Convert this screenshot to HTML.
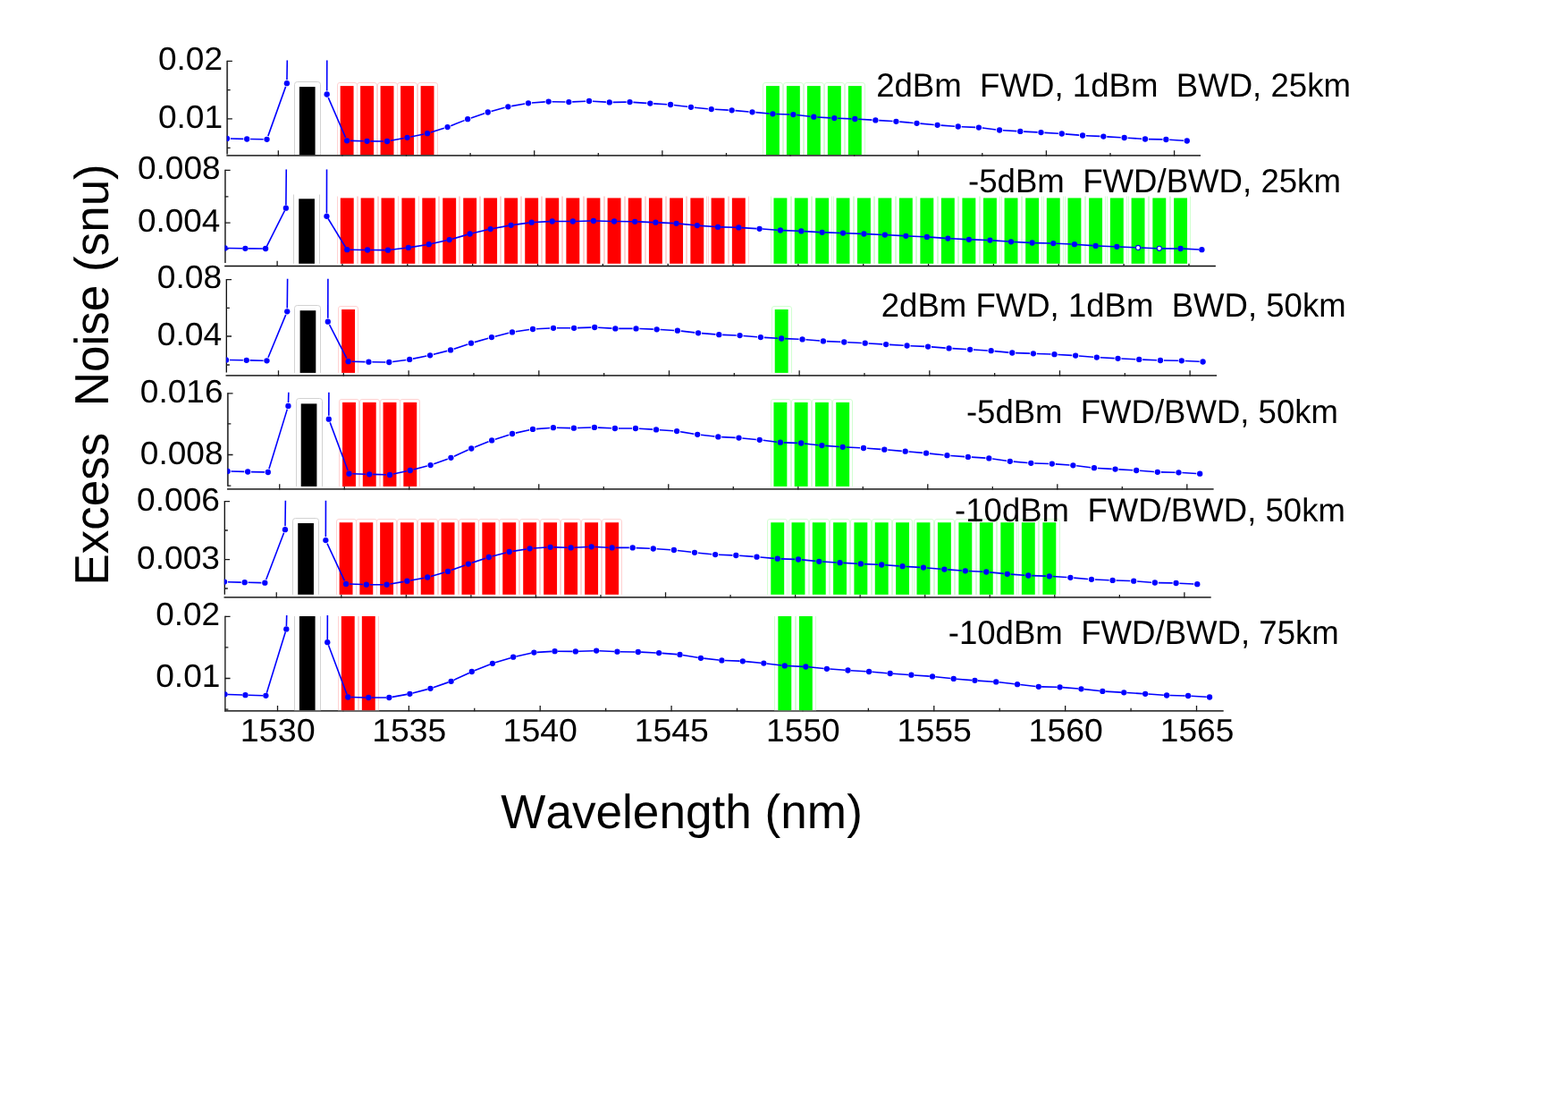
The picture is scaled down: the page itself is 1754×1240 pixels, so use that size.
<!DOCTYPE html>
<html lang="en"><head><meta charset="utf-8"><title>Excess Noise vs Wavelength</title>
<style>html,body{margin:0;padding:0;background:#fff;}body{width:1754px;height:1240px;overflow:hidden;}svg{display:block;}text{font-family:"Liberation Sans",sans-serif;font-size:100px;fill:#000;font-kerning:none;white-space:pre;text-rendering:geometricPrecision;}</style></head><body>
<svg width="1754" height="1240" viewBox="0 0 1754 1240">
<rect width="1754" height="1240" fill="#fff"/>
<g id="panel1">
<path d="M254.16 67.80V172.60" fill="none" stroke="#3a3a3a" stroke-width="1.8"/>
<path d="M253.36 173.90H1343.03" fill="none" stroke="#3a3a3a" stroke-width="1.8"/>
<path d="M254.06 68.40h5.8M254.06 100.70h3.6M254.06 132.90h5.8M254.06 165.30h3.6M311.33 174.40v-6.2M382.92 174.40v-3.5M454.51 174.40v-6.2M526.10 174.40v-3.5M597.69 174.40v-6.2M669.28 174.40v-3.5M740.87 174.40v-6.2M812.46 174.40v-3.5M884.05 174.40v-6.2M955.64 174.40v-3.5M1027.23 174.40v-6.2M1098.82 174.40v-3.5M1170.41 174.40v-6.2M1242.00 174.40v-3.5M1313.59 174.40v-6.2" fill="none" stroke="#1a1a1a" stroke-width="1.3"/>
<path d="M329.50 173.00V94.50Q329.50 91.50 332.50 91.50H355.50Q358.50 91.50 358.50 94.50V173.00z" fill="#fff"/><path d="M329.50 173.00V94.50Q329.50 91.50 332.50 91.50H355.50Q358.50 91.50 358.50 94.50V173.00" fill="none" stroke="#d2d2d2" stroke-width="1"/>
<rect x="334.88" y="97.10" width="17.70" height="75.90" fill="#000"/>
<path d="M377.50 173.00V95.00Q377.50 92.50 380.00 92.50H397.00Q399.50 92.50 399.50 95.00V173.00z" fill="#fff"/><path d="M377.50 173.00V95.00Q377.50 92.50 380.00 92.50H397.00Q399.50 92.50 399.50 95.00V173.00" fill="none" stroke="#ffd2d2" stroke-width="1"/>
<rect x="380.66" y="96.10" width="14.90" height="76.90" fill="#ff0000"/>
<path d="M399.50 173.00V95.00Q399.50 92.50 402.00 92.50H419.00Q421.50 92.50 421.50 95.00V173.00z" fill="#fff"/><path d="M399.50 173.00V95.00Q399.50 92.50 402.00 92.50H419.00Q421.50 92.50 421.50 95.00V173.00" fill="none" stroke="#ffd2d2" stroke-width="1"/>
<rect x="403.11" y="96.10" width="14.90" height="76.90" fill="#ff0000"/>
<path d="M422.50 173.00V95.00Q422.50 92.50 425.00 92.50H442.00Q444.50 92.50 444.50 95.00V173.00z" fill="#fff"/><path d="M422.50 173.00V95.00Q422.50 92.50 425.00 92.50H442.00Q444.50 92.50 444.50 95.00V173.00" fill="none" stroke="#ffd2d2" stroke-width="1"/>
<rect x="425.58" y="96.10" width="14.90" height="76.90" fill="#ff0000"/>
<path d="M444.50 173.00V95.00Q444.50 92.50 447.00 92.50H464.00Q466.50 92.50 466.50 95.00V173.00z" fill="#fff"/><path d="M444.50 173.00V95.00Q444.50 92.50 447.00 92.50H464.00Q466.50 92.50 466.50 95.00V173.00" fill="none" stroke="#ffd2d2" stroke-width="1"/>
<rect x="448.08" y="96.10" width="14.90" height="76.90" fill="#ff0000"/>
<path d="M467.50 173.00V95.00Q467.50 92.50 470.00 92.50H487.00Q489.50 92.50 489.50 95.00V173.00z" fill="#fff"/><path d="M467.50 173.00V95.00Q467.50 92.50 470.00 92.50H487.00Q489.50 92.50 489.50 95.00V173.00" fill="none" stroke="#ffd2d2" stroke-width="1"/>
<rect x="470.60" y="96.10" width="14.90" height="76.90" fill="#ff0000"/>
<path d="M853.50 173.00V95.00Q853.50 92.50 856.00 92.50H873.00Q875.50 92.50 875.50 95.00V173.00z" fill="#fff"/><path d="M853.50 173.00V95.00Q853.50 92.50 856.00 92.50H873.00Q875.50 92.50 875.50 95.00V173.00" fill="none" stroke="#d2ffd2" stroke-width="1"/>
<rect x="856.99" y="96.10" width="14.90" height="76.90" fill="#00ff00"/>
<path d="M876.50 173.00V95.00Q876.50 92.50 879.00 92.50H896.00Q898.50 92.50 898.50 95.00V173.00z" fill="#fff"/><path d="M876.50 173.00V95.00Q876.50 92.50 879.00 92.50H896.00Q898.50 92.50 898.50 95.00V173.00" fill="none" stroke="#d2ffd2" stroke-width="1"/>
<rect x="879.93" y="96.10" width="14.90" height="76.90" fill="#00ff00"/>
<path d="M899.50 173.00V95.00Q899.50 92.50 902.00 92.50H919.00Q921.50 92.50 921.50 95.00V173.00z" fill="#fff"/><path d="M899.50 173.00V95.00Q899.50 92.50 902.00 92.50H919.00Q921.50 92.50 921.50 95.00V173.00" fill="none" stroke="#d2ffd2" stroke-width="1"/>
<rect x="902.89" y="96.10" width="14.90" height="76.90" fill="#00ff00"/>
<path d="M922.50 173.00V95.00Q922.50 92.50 925.00 92.50H942.00Q944.50 92.50 944.50 95.00V173.00z" fill="#fff"/><path d="M922.50 173.00V95.00Q922.50 92.50 925.00 92.50H942.00Q944.50 92.50 944.50 95.00V173.00" fill="none" stroke="#d2ffd2" stroke-width="1"/>
<rect x="925.88" y="96.10" width="14.90" height="76.90" fill="#00ff00"/>
<path d="M945.50 173.00V95.00Q945.50 92.50 948.00 92.50H965.00Q967.50 92.50 967.50 95.00V173.00z" fill="#fff"/><path d="M945.50 173.00V95.00Q945.50 92.50 948.00 92.50H965.00Q967.50 92.50 967.50 95.00V173.00" fill="none" stroke="#d2ffd2" stroke-width="1"/>
<rect x="948.89" y="96.10" width="14.90" height="76.90" fill="#00ff00"/>
<clipPath id="cp1"><rect x="253.76" y="67.20" width="1108.17" height="107.30"/></clipPath>
<g clip-path="url(#cp1)">
<path d="M257.79 155.00L272.31 155.40M280.10 155.55L294.64 155.75M299.85 152.13L319.59 96.87M367.23 109.08L386.56 153.72M392.01 157.39L406.66 157.71M414.46 157.83L429.13 157.97M436.87 157.28L451.70 154.52M459.35 153.02L474.23 149.98M481.77 148.03L496.87 143.27M504.22 140.67L519.53 134.63M526.85 131.94L542.05 126.76M549.51 124.47L564.60 120.33M572.20 118.62L587.15 115.98M594.88 115.01L609.76 113.89M617.55 113.69L632.43 114.01M640.23 113.91L655.14 113.19M662.93 113.24L677.87 114.16M685.66 114.35L700.62 114.15M708.41 114.36L723.40 115.34M731.18 115.84L746.20 116.76M753.96 117.47L769.04 119.33M776.79 120.19L791.88 121.71M799.65 122.30L814.73 123.10M822.51 123.64L837.63 124.96M845.40 125.64L860.55 126.96M868.33 127.44L883.48 127.96M891.25 128.54L906.46 130.26M914.23 130.94L929.43 131.86M937.22 132.25L952.44 132.85M960.23 133.24L975.48 134.16M983.27 134.64L998.54 135.56M1006.32 136.14L1021.63 137.46M1029.40 138.14L1044.74 139.46M1052.51 140.09L1067.86 141.21M1075.65 141.69L1091.01 142.41M1098.78 143.08L1114.22 145.02M1121.98 145.73L1137.40 146.67M1145.19 147.10L1160.62 147.90M1168.41 148.33L1183.88 149.27M1191.66 149.83L1207.16 151.17M1214.94 151.68L1230.45 152.42M1238.24 152.83L1253.78 153.77M1261.56 154.25L1277.13 155.25M1284.92 155.58L1300.49 155.92M1308.28 156.25L1323.90 157.25M320.96 89.30L321.30 67.20M365.78 67.20L365.69 101.60" fill="none" stroke="#0000ff" stroke-width="1.6"/>
<circle cx="253.89" cy="154.90" r="3.15" fill="#0000ff"/>
<circle cx="276.20" cy="155.50" r="3.15" fill="#0000ff"/>
<circle cx="298.54" cy="155.80" r="3.15" fill="#0000ff"/>
<circle cx="320.90" cy="93.20" r="3.15" fill="#0000ff"/>
<circle cx="365.68" cy="105.50" r="3.15" fill="#0000ff"/>
<circle cx="388.11" cy="157.30" r="3.15" fill="#0000ff"/>
<circle cx="410.56" cy="157.80" r="3.15" fill="#0000ff"/>
<circle cx="433.03" cy="158.00" r="3.15" fill="#0000ff"/>
<circle cx="455.53" cy="153.80" r="3.15" fill="#0000ff"/>
<circle cx="478.05" cy="149.20" r="3.15" fill="#0000ff"/>
<circle cx="500.59" cy="142.10" r="3.15" fill="#0000ff"/>
<circle cx="523.16" cy="133.20" r="3.15" fill="#0000ff"/>
<circle cx="545.75" cy="125.50" r="3.15" fill="#0000ff"/>
<circle cx="568.36" cy="119.30" r="3.15" fill="#0000ff"/>
<circle cx="590.99" cy="115.30" r="3.15" fill="#0000ff"/>
<circle cx="613.65" cy="113.60" r="3.15" fill="#0000ff"/>
<circle cx="636.33" cy="114.10" r="3.15" fill="#0000ff"/>
<circle cx="659.04" cy="113.00" r="3.15" fill="#0000ff"/>
<circle cx="681.76" cy="114.40" r="3.15" fill="#0000ff"/>
<circle cx="704.52" cy="114.10" r="3.15" fill="#0000ff"/>
<circle cx="727.29" cy="115.60" r="3.15" fill="#0000ff"/>
<circle cx="750.09" cy="117.00" r="3.15" fill="#0000ff"/>
<circle cx="772.91" cy="119.80" r="3.15" fill="#0000ff"/>
<circle cx="795.76" cy="122.10" r="3.15" fill="#0000ff"/>
<circle cx="818.63" cy="123.30" r="3.15" fill="#0000ff"/>
<circle cx="841.52" cy="125.30" r="3.15" fill="#0000ff"/>
<circle cx="864.44" cy="127.30" r="3.15" fill="#0000ff"/>
<circle cx="887.38" cy="128.10" r="3.15" fill="#0000ff"/>
<circle cx="910.34" cy="130.70" r="3.15" fill="#0000ff"/>
<circle cx="933.33" cy="132.10" r="3.15" fill="#0000ff"/>
<circle cx="956.34" cy="133.00" r="3.15" fill="#0000ff"/>
<circle cx="979.37" cy="134.40" r="3.15" fill="#0000ff"/>
<circle cx="1002.43" cy="135.80" r="3.15" fill="#0000ff"/>
<circle cx="1025.52" cy="137.80" r="3.15" fill="#0000ff"/>
<circle cx="1048.62" cy="139.80" r="3.15" fill="#0000ff"/>
<circle cx="1071.75" cy="141.50" r="3.15" fill="#0000ff"/>
<circle cx="1094.91" cy="142.60" r="3.15" fill="#0000ff"/>
<circle cx="1118.09" cy="145.50" r="3.15" fill="#0000ff"/>
<circle cx="1141.29" cy="146.90" r="3.15" fill="#0000ff"/>
<circle cx="1164.52" cy="148.10" r="3.15" fill="#0000ff"/>
<circle cx="1187.77" cy="149.50" r="3.15" fill="#0000ff"/>
<circle cx="1211.05" cy="151.50" r="3.15" fill="#0000ff"/>
<circle cx="1234.35" cy="152.60" r="3.15" fill="#0000ff"/>
<circle cx="1257.67" cy="154.00" r="3.15" fill="#0000ff"/>
<circle cx="1281.02" cy="155.50" r="3.15" fill="#0000ff"/>
<circle cx="1304.39" cy="156.00" r="3.15" fill="#0000ff"/>
<circle cx="1327.79" cy="157.50" r="3.15" fill="#0000ff"/>
</g>
<text transform="translate(176.91 78.00) scale(0.3703 0.3600)">0.02</text>
<text transform="translate(176.91 143.00) scale(0.3707 0.3600)">0.01</text>
<text transform="translate(980.16 108.00) scale(0.3660 0.3717)">2dBm  FWD, 1dBm  BWD, 25km</text>
</g>
<g id="panel2">
<path d="M251.94 189.80V294.00" fill="none" stroke="#3a3a3a" stroke-width="1.7"/>
<path d="M251.14 297.50H1359.89" fill="none" stroke="#0a0a0a" stroke-width="1.3"/>
<path d="M251.84 190.40h5.8M251.84 219.90h3.6M251.84 249.20h5.8M251.84 278.50h3.6M310.12 298.00v-6.2M382.97 298.00v-3.5M455.81 298.00v-6.2M528.65 298.00v-3.5M601.50 298.00v-6.2M674.35 298.00v-3.5M747.19 298.00v-6.2M820.04 298.00v-3.5M892.88 298.00v-6.2M965.73 298.00v-3.5M1038.57 298.00v-6.2M1111.41 298.00v-3.5M1184.26 298.00v-6.2M1257.11 298.00v-3.5M1329.95 298.00v-6.2" fill="none" stroke="#1a1a1a" stroke-width="1.3"/>
<path d="M328.50 294.80V217.50H357.50V294.80z" fill="#fff"/><path d="M328.50 294.80V217.50M357.50 217.50V294.80" fill="none" stroke="#d2d2d2" stroke-width="1"/>
<rect x="334.23" y="222.30" width="17.70" height="72.50" fill="#000"/>
<path d="M377.50 294.80V219.50H399.50V294.80z" fill="#fff"/><path d="M377.50 294.80V219.50M399.50 219.50V294.80" fill="none" stroke="#ffd2d2" stroke-width="1"/>
<rect x="380.80" y="221.40" width="14.90" height="73.40" fill="#ff0000"/>
<path d="M400.50 294.80V219.50H422.50V294.80z" fill="#fff"/><path d="M400.50 294.80V219.50M422.50 219.50V294.80" fill="none" stroke="#ffd2d2" stroke-width="1"/>
<rect x="403.64" y="221.40" width="14.90" height="73.40" fill="#ff0000"/>
<path d="M423.50 294.80V219.50H445.50V294.80z" fill="#fff"/><path d="M423.50 294.80V219.50M445.50 219.50V294.80" fill="none" stroke="#ffd2d2" stroke-width="1"/>
<rect x="426.51" y="221.40" width="14.90" height="73.40" fill="#ff0000"/>
<path d="M445.50 294.80V219.50H468.50V294.80z" fill="#fff"/><path d="M445.50 294.80V219.50M468.50 219.50V294.80" fill="none" stroke="#ffd2d2" stroke-width="1"/>
<rect x="449.40" y="221.40" width="14.90" height="73.40" fill="#ff0000"/>
<path d="M468.50 294.80V219.50H490.50V294.80z" fill="#fff"/><path d="M468.50 294.80V219.50M490.50 219.50V294.80" fill="none" stroke="#ffd2d2" stroke-width="1"/>
<rect x="472.31" y="221.40" width="14.90" height="73.40" fill="#ff0000"/>
<path d="M491.50 294.80V219.50H513.50V294.80z" fill="#fff"/><path d="M491.50 294.80V219.50M513.50 219.50V294.80" fill="none" stroke="#ffd2d2" stroke-width="1"/>
<rect x="495.25" y="221.40" width="14.90" height="73.40" fill="#ff0000"/>
<path d="M514.50 294.80V219.50H536.50V294.80z" fill="#fff"/><path d="M514.50 294.80V219.50M536.50 219.50V294.80" fill="none" stroke="#ffd2d2" stroke-width="1"/>
<rect x="518.21" y="221.40" width="14.90" height="73.40" fill="#ff0000"/>
<path d="M537.50 294.80V219.50H559.50V294.80z" fill="#fff"/><path d="M537.50 294.80V219.50M559.50 219.50V294.80" fill="none" stroke="#ffd2d2" stroke-width="1"/>
<rect x="541.19" y="221.40" width="14.90" height="73.40" fill="#ff0000"/>
<path d="M560.50 294.80V219.50H582.50V294.80z" fill="#fff"/><path d="M560.50 294.80V219.50M582.50 219.50V294.80" fill="none" stroke="#ffd2d2" stroke-width="1"/>
<rect x="564.20" y="221.40" width="14.90" height="73.40" fill="#ff0000"/>
<path d="M583.50 294.80V219.50H605.50V294.80z" fill="#fff"/><path d="M583.50 294.80V219.50M605.50 219.50V294.80" fill="none" stroke="#ffd2d2" stroke-width="1"/>
<rect x="587.23" y="221.40" width="14.90" height="73.40" fill="#ff0000"/>
<path d="M606.50 294.80V219.50H628.50V294.80z" fill="#fff"/><path d="M606.50 294.80V219.50M628.50 219.50V294.80" fill="none" stroke="#ffd2d2" stroke-width="1"/>
<rect x="610.29" y="221.40" width="14.90" height="73.40" fill="#ff0000"/>
<path d="M629.50 294.80V219.50H652.50V294.80z" fill="#fff"/><path d="M629.50 294.80V219.50M652.50 219.50V294.80" fill="none" stroke="#ffd2d2" stroke-width="1"/>
<rect x="633.37" y="221.40" width="14.90" height="73.40" fill="#ff0000"/>
<path d="M653.50 294.80V219.50H675.50V294.80z" fill="#fff"/><path d="M653.50 294.80V219.50M675.50 219.50V294.80" fill="none" stroke="#ffd2d2" stroke-width="1"/>
<rect x="656.47" y="221.40" width="14.90" height="73.40" fill="#ff0000"/>
<path d="M676.50 294.80V219.50H698.50V294.80z" fill="#fff"/><path d="M676.50 294.80V219.50M698.50 219.50V294.80" fill="none" stroke="#ffd2d2" stroke-width="1"/>
<rect x="679.60" y="221.40" width="14.90" height="73.40" fill="#ff0000"/>
<path d="M699.50 294.80V219.50H721.50V294.80z" fill="#fff"/><path d="M699.50 294.80V219.50M721.50 219.50V294.80" fill="none" stroke="#ffd2d2" stroke-width="1"/>
<rect x="702.75" y="221.40" width="14.90" height="73.40" fill="#ff0000"/>
<path d="M722.50 294.80V219.50H744.50V294.80z" fill="#fff"/><path d="M722.50 294.80V219.50M744.50 219.50V294.80" fill="none" stroke="#ffd2d2" stroke-width="1"/>
<rect x="725.92" y="221.40" width="14.90" height="73.40" fill="#ff0000"/>
<path d="M745.50 294.80V219.50H767.50V294.80z" fill="#fff"/><path d="M745.50 294.80V219.50M767.50 219.50V294.80" fill="none" stroke="#ffd2d2" stroke-width="1"/>
<rect x="749.12" y="221.40" width="14.90" height="73.40" fill="#ff0000"/>
<path d="M768.50 294.80V219.50H790.50V294.80z" fill="#fff"/><path d="M768.50 294.80V219.50M790.50 219.50V294.80" fill="none" stroke="#ffd2d2" stroke-width="1"/>
<rect x="772.34" y="221.40" width="14.90" height="73.40" fill="#ff0000"/>
<path d="M792.50 294.80V219.50H814.50V294.80z" fill="#fff"/><path d="M792.50 294.80V219.50M814.50 219.50V294.80" fill="none" stroke="#ffd2d2" stroke-width="1"/>
<rect x="795.59" y="221.40" width="14.90" height="73.40" fill="#ff0000"/>
<path d="M815.50 294.80V219.50H837.50V294.80z" fill="#fff"/><path d="M815.50 294.80V219.50M837.50 219.50V294.80" fill="none" stroke="#ffd2d2" stroke-width="1"/>
<rect x="818.86" y="221.40" width="14.90" height="73.40" fill="#ff0000"/>
<path d="M862.50 294.80V219.50H884.50V294.80z" fill="#fff"/><path d="M862.50 294.80V219.50M884.50 219.50V294.80" fill="none" stroke="#d2ffd2" stroke-width="1"/>
<rect x="865.47" y="221.40" width="14.90" height="73.40" fill="#00ff00"/>
<path d="M885.50 294.80V219.50H907.50V294.80z" fill="#fff"/><path d="M885.50 294.80V219.50M907.50 219.50V294.80" fill="none" stroke="#d2ffd2" stroke-width="1"/>
<rect x="888.81" y="221.40" width="14.90" height="73.40" fill="#00ff00"/>
<path d="M908.50 294.80V219.50H930.50V294.80z" fill="#fff"/><path d="M908.50 294.80V219.50M930.50 219.50V294.80" fill="none" stroke="#d2ffd2" stroke-width="1"/>
<rect x="912.18" y="221.40" width="14.90" height="73.40" fill="#00ff00"/>
<path d="M932.50 294.80V219.50H954.50V294.80z" fill="#fff"/><path d="M932.50 294.80V219.50M954.50 219.50V294.80" fill="none" stroke="#d2ffd2" stroke-width="1"/>
<rect x="935.57" y="221.40" width="14.90" height="73.40" fill="#00ff00"/>
<path d="M955.50 294.80V219.50H977.50V294.80z" fill="#fff"/><path d="M955.50 294.80V219.50M977.50 219.50V294.80" fill="none" stroke="#d2ffd2" stroke-width="1"/>
<rect x="958.99" y="221.40" width="14.90" height="73.40" fill="#00ff00"/>
<path d="M978.50 294.80V219.50H1001.50V294.80z" fill="#fff"/><path d="M978.50 294.80V219.50M1001.50 219.50V294.80" fill="none" stroke="#d2ffd2" stroke-width="1"/>
<rect x="982.42" y="221.40" width="14.90" height="73.40" fill="#00ff00"/>
<path d="M1002.50 294.80V219.50H1024.50V294.80z" fill="#fff"/><path d="M1002.50 294.80V219.50M1024.50 219.50V294.80" fill="none" stroke="#d2ffd2" stroke-width="1"/>
<rect x="1005.89" y="221.40" width="14.90" height="73.40" fill="#00ff00"/>
<path d="M1025.50 294.80V219.50H1048.50V294.80z" fill="#fff"/><path d="M1025.50 294.80V219.50M1048.50 219.50V294.80" fill="none" stroke="#d2ffd2" stroke-width="1"/>
<rect x="1029.38" y="221.40" width="14.90" height="73.40" fill="#00ff00"/>
<path d="M1049.50 294.80V219.50H1071.50V294.80z" fill="#fff"/><path d="M1049.50 294.80V219.50M1071.50 219.50V294.80" fill="none" stroke="#d2ffd2" stroke-width="1"/>
<rect x="1052.89" y="221.40" width="14.90" height="73.40" fill="#00ff00"/>
<path d="M1072.50 294.80V219.50H1095.50V294.80z" fill="#fff"/><path d="M1072.50 294.80V219.50M1095.50 219.50V294.80" fill="none" stroke="#d2ffd2" stroke-width="1"/>
<rect x="1076.42" y="221.40" width="14.90" height="73.40" fill="#00ff00"/>
<path d="M1096.50 294.80V219.50H1118.50V294.80z" fill="#fff"/><path d="M1096.50 294.80V219.50M1118.50 219.50V294.80" fill="none" stroke="#d2ffd2" stroke-width="1"/>
<rect x="1099.99" y="221.40" width="14.90" height="73.40" fill="#00ff00"/>
<path d="M1120.50 294.80V219.50H1142.50V294.80z" fill="#fff"/><path d="M1120.50 294.80V219.50M1142.50 219.50V294.80" fill="none" stroke="#d2ffd2" stroke-width="1"/>
<rect x="1123.57" y="221.40" width="14.90" height="73.40" fill="#00ff00"/>
<path d="M1143.50 294.80V219.50H1165.50V294.80z" fill="#fff"/><path d="M1143.50 294.80V219.50M1165.50 219.50V294.80" fill="none" stroke="#d2ffd2" stroke-width="1"/>
<rect x="1147.18" y="221.40" width="14.90" height="73.40" fill="#00ff00"/>
<path d="M1167.50 294.80V219.50H1189.50V294.80z" fill="#fff"/><path d="M1167.50 294.80V219.50M1189.50 219.50V294.80" fill="none" stroke="#d2ffd2" stroke-width="1"/>
<rect x="1170.82" y="221.40" width="14.90" height="73.40" fill="#00ff00"/>
<path d="M1191.50 294.80V219.50H1213.50V294.80z" fill="#fff"/><path d="M1191.50 294.80V219.50M1213.50 219.50V294.80" fill="none" stroke="#d2ffd2" stroke-width="1"/>
<rect x="1194.47" y="221.40" width="14.90" height="73.40" fill="#00ff00"/>
<path d="M1214.50 294.80V219.50H1236.50V294.80z" fill="#fff"/><path d="M1214.50 294.80V219.50M1236.50 219.50V294.80" fill="none" stroke="#d2ffd2" stroke-width="1"/>
<rect x="1218.16" y="221.40" width="14.90" height="73.40" fill="#00ff00"/>
<path d="M1238.50 294.80V219.50H1260.50V294.80z" fill="#fff"/><path d="M1238.50 294.80V219.50M1260.50 219.50V294.80" fill="none" stroke="#d2ffd2" stroke-width="1"/>
<rect x="1241.87" y="221.40" width="14.90" height="73.40" fill="#00ff00"/>
<path d="M1262.50 294.80V219.50H1284.50V294.80z" fill="#fff"/><path d="M1262.50 294.80V219.50M1284.50 219.50V294.80" fill="none" stroke="#d2ffd2" stroke-width="1"/>
<rect x="1265.60" y="221.40" width="14.90" height="73.40" fill="#00ff00"/>
<path d="M1285.50 294.80V219.50H1308.50V294.80z" fill="#fff"/><path d="M1285.50 294.80V219.50M1308.50 219.50V294.80" fill="none" stroke="#d2ffd2" stroke-width="1"/>
<rect x="1289.36" y="221.40" width="14.90" height="73.40" fill="#00ff00"/>
<path d="M1309.50 294.80V219.50H1331.50V294.80z" fill="#fff"/><path d="M1309.50 294.80V219.50M1331.50 219.50V294.80" fill="none" stroke="#d2ffd2" stroke-width="1"/>
<rect x="1313.14" y="221.40" width="14.90" height="73.40" fill="#00ff00"/>
<clipPath id="cp2"><rect x="251.54" y="189.20" width="1127.24" height="108.90"/></clipPath>
<g clip-path="url(#cp2)">
<path d="M254.87 277.54L271.18 277.76M277.58 277.83L293.91 277.97M298.54 275.14L318.42 235.56M367.09 244.53L386.58 276.47M391.45 279.24L407.89 279.46M414.29 279.53L430.76 279.67M437.13 279.31L453.67 277.29M460.01 276.39L476.60 273.71M482.89 272.51L499.58 268.79M505.77 267.22L522.58 262.38M528.78 260.77L545.53 256.83M551.79 255.51L568.51 252.39M574.82 251.37L591.51 249.13M597.88 248.53L614.54 247.67M620.94 247.50L637.62 247.50M644.02 247.43L660.72 247.07M667.12 247.07L683.85 247.43M690.25 247.54L707.00 247.76M713.40 247.92L730.18 248.58M736.57 248.85L753.37 249.65M759.76 250.12L776.61 251.78M782.98 252.33L799.85 253.57M806.24 253.88L823.11 254.32M829.50 254.59L846.41 255.61M852.79 256.03L869.73 257.27M876.12 257.62L893.07 258.28M899.46 258.59L916.44 259.61M922.83 259.91L939.82 260.49M946.22 260.72L963.24 261.38M969.63 261.65L986.68 262.45M993.07 262.76L1010.14 263.64M1016.53 263.95L1033.63 264.75M1040.02 265.13L1057.15 266.37M1063.53 266.76L1080.68 267.64M1087.07 267.91L1104.24 268.49M1110.63 268.83L1127.83 270.07M1134.22 270.46L1151.43 271.34M1157.83 271.58L1175.07 272.02M1181.46 272.25L1198.73 273.05M1205.12 273.43L1222.42 274.67M1228.81 275.02L1246.12 275.68M1252.51 275.95L1269.85 276.75M1276.25 277.02L1293.61 277.68M1300.01 277.83L1317.39 277.97M1323.79 278.16L1341.20 279.04M319.89 229.50L320.26 189.20M365.53 189.20L365.43 238.60" fill="none" stroke="#0000ff" stroke-width="1.6"/>
<circle cx="251.67" cy="277.50" r="3.15" fill="#0000ff"/>
<circle cx="274.38" cy="277.80" r="3.15" fill="#0000ff"/>
<circle cx="297.11" cy="278.00" r="3.15" fill="#0000ff"/>
<circle cx="319.86" cy="232.70" r="3.15" fill="#0000ff"/>
<circle cx="365.43" cy="241.80" r="3.15" fill="#0000ff"/>
<circle cx="388.25" cy="279.20" r="3.15" fill="#0000ff"/>
<circle cx="411.09" cy="279.50" r="3.15" fill="#0000ff"/>
<circle cx="433.96" cy="279.70" r="3.15" fill="#0000ff"/>
<circle cx="456.85" cy="276.90" r="3.15" fill="#0000ff"/>
<circle cx="479.76" cy="273.20" r="3.15" fill="#0000ff"/>
<circle cx="502.70" cy="268.10" r="3.15" fill="#0000ff"/>
<circle cx="525.66" cy="261.50" r="3.15" fill="#0000ff"/>
<circle cx="548.64" cy="256.10" r="3.15" fill="#0000ff"/>
<circle cx="571.65" cy="251.80" r="3.15" fill="#0000ff"/>
<circle cx="594.68" cy="248.70" r="3.15" fill="#0000ff"/>
<circle cx="617.74" cy="247.50" r="3.15" fill="#0000ff"/>
<circle cx="640.82" cy="247.50" r="3.15" fill="#0000ff"/>
<circle cx="663.92" cy="247.00" r="3.15" fill="#0000ff"/>
<circle cx="687.05" cy="247.50" r="3.15" fill="#0000ff"/>
<circle cx="710.20" cy="247.80" r="3.15" fill="#0000ff"/>
<circle cx="733.37" cy="248.70" r="3.15" fill="#0000ff"/>
<circle cx="756.57" cy="249.80" r="3.15" fill="#0000ff"/>
<circle cx="779.79" cy="252.10" r="3.15" fill="#0000ff"/>
<circle cx="803.04" cy="253.80" r="3.15" fill="#0000ff"/>
<circle cx="826.31" cy="254.40" r="3.15" fill="#0000ff"/>
<circle cx="849.60" cy="255.80" r="3.15" fill="#0000ff"/>
<circle cx="872.92" cy="257.50" r="3.15" fill="#0000ff"/>
<circle cx="896.26" cy="258.40" r="3.15" fill="#0000ff"/>
<circle cx="919.63" cy="259.80" r="3.15" fill="#0000ff"/>
<circle cx="943.02" cy="260.60" r="3.15" fill="#0000ff"/>
<circle cx="966.44" cy="261.50" r="3.15" fill="#0000ff"/>
<circle cx="989.87" cy="262.60" r="3.15" fill="#0000ff"/>
<circle cx="1013.34" cy="263.80" r="3.15" fill="#0000ff"/>
<circle cx="1036.83" cy="264.90" r="3.15" fill="#0000ff"/>
<circle cx="1060.34" cy="266.60" r="3.15" fill="#0000ff"/>
<circle cx="1083.87" cy="267.80" r="3.15" fill="#0000ff"/>
<circle cx="1107.44" cy="268.60" r="3.15" fill="#0000ff"/>
<circle cx="1131.02" cy="270.30" r="3.15" fill="#0000ff"/>
<circle cx="1154.63" cy="271.50" r="3.15" fill="#0000ff"/>
<circle cx="1178.27" cy="272.10" r="3.15" fill="#0000ff"/>
<circle cx="1201.92" cy="273.20" r="3.15" fill="#0000ff"/>
<circle cx="1225.61" cy="274.90" r="3.15" fill="#0000ff"/>
<circle cx="1249.32" cy="275.80" r="3.15" fill="#0000ff"/>
<circle cx="1273.05" cy="276.90" r="3.15" fill="#0000ff"/>
<circle cx="1296.81" cy="277.80" r="3.15" fill="#0000ff"/>
<circle cx="1320.59" cy="278.00" r="3.15" fill="#0000ff"/>
<circle cx="1344.40" cy="279.20" r="3.15" fill="#0000ff"/>
<circle cx="1273.05" cy="276.90" r="2.0" fill="#fff"/>
<circle cx="1296.81" cy="277.80" r="2.0" fill="#fff"/>
</g>
<text transform="translate(153.91 200.00) scale(0.3704 0.3600)">0.008</text>
<text transform="translate(153.91 259.00) scale(0.3694 0.3600)">0.004</text>
<text transform="translate(1083.02 215.00) scale(0.3660 0.3717)">-5dBm  FWD/BWD, 25km</text>
</g>
<g id="panel3">
<path d="M253.32 312.00V416.40" fill="none" stroke="#0a0a0a" stroke-width="1.3"/>
<path d="M252.52 419.90H1361.08" fill="none" stroke="#3a3a3a" stroke-width="1.8"/>
<path d="M253.22 312.60h5.8M253.22 344.30h3.6M253.22 376.00h5.8M253.22 408.00h3.6M311.49 420.40v-6.2M384.32 420.40v-3.5M457.15 420.40v-6.2M529.99 420.40v-3.5M602.82 420.40v-6.2M675.65 420.40v-3.5M748.49 420.40v-6.2M821.32 420.40v-3.5M894.15 420.40v-6.2M966.98 420.40v-3.5M1039.82 420.40v-6.2M1112.65 420.40v-3.5M1185.48 420.40v-6.2M1258.31 420.40v-3.5M1331.14 420.40v-6.2" fill="none" stroke="#1a1a1a" stroke-width="1.3"/>
<path d="M329.50 416.90V344.50Q329.50 341.50 332.50 341.50H355.50Q358.50 341.50 358.50 344.50V416.90z" fill="#fff"/><path d="M329.50 416.90V344.50Q329.50 341.50 332.50 341.50H355.50Q358.50 341.50 358.50 344.50V416.90" fill="none" stroke="#d2d2d2" stroke-width="1"/>
<rect x="335.59" y="347.20" width="17.70" height="69.70" fill="#000"/>
<path d="M378.50 416.90V345.00Q378.50 342.50 381.00 342.50H398.00Q400.50 342.50 400.50 345.00V416.90z" fill="#fff"/><path d="M378.50 416.90V345.00Q378.50 342.50 381.00 342.50H398.00Q400.50 342.50 400.50 345.00V416.90" fill="none" stroke="#ffd2d2" stroke-width="1"/>
<rect x="382.15" y="346.00" width="14.90" height="70.90" fill="#ff0000"/>
<path d="M863.50 416.90V345.00Q863.50 342.50 866.00 342.50H883.00Q885.50 342.50 885.50 345.00V416.90z" fill="#fff"/><path d="M863.50 416.90V345.00Q863.50 342.50 866.00 342.50H883.00Q885.50 342.50 885.50 345.00V416.90" fill="none" stroke="#d2ffd2" stroke-width="1"/>
<rect x="866.74" y="346.00" width="14.90" height="70.90" fill="#00ff00"/>
<clipPath id="cp3"><rect x="252.92" y="311.40" width="1127.05" height="109.10"/></clipPath>
<g clip-path="url(#cp3)">
<path d="M256.95 402.55L271.85 402.75M279.65 402.89L294.58 403.21M299.97 399.70L319.73 351.90M368.57 363.17L387.82 400.73M393.50 404.29L408.54 404.61M416.34 404.75L431.41 404.95M439.17 404.48L454.33 402.42M462.02 401.13L477.28 398.07M484.88 396.33L500.26 392.37M507.73 390.16L523.30 384.94M530.74 382.62L546.23 378.18M553.76 376.16L569.19 372.34M576.84 370.83L592.15 368.57M599.90 367.80L615.16 367.00M622.96 366.80L638.23 366.80M646.03 366.67L661.33 366.13M669.12 366.24L684.46 367.16M692.25 367.40L707.60 367.40M715.40 367.55L730.77 368.15M738.56 368.53L753.97 369.47M761.74 370.13L777.21 371.87M784.97 372.62L800.44 373.88M808.22 374.35L823.69 374.95M831.48 375.43L846.99 376.77M854.77 377.33L870.30 378.27M878.09 378.65L893.64 379.25M901.42 379.73L917.01 381.07M924.79 381.58L940.39 382.32M948.18 382.70L963.80 383.50M971.59 383.93L987.23 384.87M995.02 385.33L1010.69 386.27M1018.48 386.68L1034.18 387.42M1041.96 387.90L1057.69 389.10M1065.47 389.63L1081.22 390.57M1089.00 391.03L1104.78 391.97M1112.55 392.58L1128.37 394.12M1136.15 394.63L1151.96 395.17M1159.75 395.45L1175.59 396.05M1183.38 396.43L1199.25 397.37M1207.03 397.93L1222.94 399.27M1230.72 399.80L1246.63 400.60M1254.42 400.98L1270.36 401.72M1278.15 402.08L1294.11 402.82M1301.91 403.05L1317.89 403.25M1325.68 403.50L1341.70 404.30M321.27 344.40L321.62 311.40M366.89 311.40L366.80 355.80" fill="none" stroke="#0000ff" stroke-width="1.6"/>
<circle cx="253.05" cy="402.50" r="3.15" fill="#0000ff"/>
<circle cx="275.75" cy="402.80" r="3.15" fill="#0000ff"/>
<circle cx="298.48" cy="403.30" r="3.15" fill="#0000ff"/>
<circle cx="321.22" cy="348.30" r="3.15" fill="#0000ff"/>
<circle cx="366.79" cy="359.70" r="3.15" fill="#0000ff"/>
<circle cx="389.60" cy="404.20" r="3.15" fill="#0000ff"/>
<circle cx="412.44" cy="404.70" r="3.15" fill="#0000ff"/>
<circle cx="435.31" cy="405.00" r="3.15" fill="#0000ff"/>
<circle cx="458.19" cy="401.90" r="3.15" fill="#0000ff"/>
<circle cx="481.10" cy="397.30" r="3.15" fill="#0000ff"/>
<circle cx="504.04" cy="391.40" r="3.15" fill="#0000ff"/>
<circle cx="526.99" cy="383.70" r="3.15" fill="#0000ff"/>
<circle cx="549.97" cy="377.10" r="3.15" fill="#0000ff"/>
<circle cx="572.98" cy="371.40" r="3.15" fill="#0000ff"/>
<circle cx="596.01" cy="368.00" r="3.15" fill="#0000ff"/>
<circle cx="619.06" cy="366.80" r="3.15" fill="#0000ff"/>
<circle cx="642.13" cy="366.80" r="3.15" fill="#0000ff"/>
<circle cx="665.23" cy="366.00" r="3.15" fill="#0000ff"/>
<circle cx="688.35" cy="367.40" r="3.15" fill="#0000ff"/>
<circle cx="711.50" cy="367.40" r="3.15" fill="#0000ff"/>
<circle cx="734.67" cy="368.30" r="3.15" fill="#0000ff"/>
<circle cx="757.86" cy="369.70" r="3.15" fill="#0000ff"/>
<circle cx="781.08" cy="372.30" r="3.15" fill="#0000ff"/>
<circle cx="804.32" cy="374.20" r="3.15" fill="#0000ff"/>
<circle cx="827.59" cy="375.10" r="3.15" fill="#0000ff"/>
<circle cx="850.88" cy="377.10" r="3.15" fill="#0000ff"/>
<circle cx="874.19" cy="378.50" r="3.15" fill="#0000ff"/>
<circle cx="897.53" cy="379.40" r="3.15" fill="#0000ff"/>
<circle cx="920.90" cy="381.40" r="3.15" fill="#0000ff"/>
<circle cx="944.28" cy="382.50" r="3.15" fill="#0000ff"/>
<circle cx="967.69" cy="383.70" r="3.15" fill="#0000ff"/>
<circle cx="991.13" cy="385.10" r="3.15" fill="#0000ff"/>
<circle cx="1014.59" cy="386.50" r="3.15" fill="#0000ff"/>
<circle cx="1038.07" cy="387.60" r="3.15" fill="#0000ff"/>
<circle cx="1061.58" cy="389.40" r="3.15" fill="#0000ff"/>
<circle cx="1085.11" cy="390.80" r="3.15" fill="#0000ff"/>
<circle cx="1108.67" cy="392.20" r="3.15" fill="#0000ff"/>
<circle cx="1132.25" cy="394.50" r="3.15" fill="#0000ff"/>
<circle cx="1155.86" cy="395.30" r="3.15" fill="#0000ff"/>
<circle cx="1179.49" cy="396.20" r="3.15" fill="#0000ff"/>
<circle cx="1203.14" cy="397.60" r="3.15" fill="#0000ff"/>
<circle cx="1226.82" cy="399.60" r="3.15" fill="#0000ff"/>
<circle cx="1250.53" cy="400.80" r="3.15" fill="#0000ff"/>
<circle cx="1274.25" cy="401.90" r="3.15" fill="#0000ff"/>
<circle cx="1298.01" cy="403.00" r="3.15" fill="#0000ff"/>
<circle cx="1321.79" cy="403.30" r="3.15" fill="#0000ff"/>
<circle cx="1345.59" cy="404.50" r="3.15" fill="#0000ff"/>
</g>
<text transform="translate(175.70 322.00) scale(0.3720 0.3600)">0.08</text>
<text transform="translate(175.69 386.00) scale(0.3733 0.3600)">0.04</text>
<text transform="translate(985.76 354.00) scale(0.3655 0.3731)">2dBm FWD, 1dBm  BWD, 50km</text>
</g>
<g id="panel4">
<path d="M254.84 439.20V543.70" fill="none" stroke="#3a3a3a" stroke-width="1.8"/>
<path d="M254.04 546.90H1357.61" fill="none" stroke="#3a3a3a" stroke-width="1.8"/>
<path d="M254.74 439.80h5.8M254.74 473.90h3.6M254.74 508.50h5.8M254.74 543.10h3.6M312.74 547.40v-6.2M385.25 547.40v-3.5M457.75 547.40v-6.2M530.25 547.40v-3.5M602.76 547.40v-6.2M675.26 547.40v-3.5M747.77 547.40v-6.2M820.27 547.40v-3.5M892.78 547.40v-6.2M965.28 547.40v-3.5M1037.79 547.40v-6.2M1110.30 547.40v-3.5M1182.80 547.40v-6.2M1255.30 547.40v-3.5M1327.81 547.40v-6.2" fill="none" stroke="#1a1a1a" stroke-width="1.3"/>
<path d="M331.50 543.90V448.50Q331.50 445.50 334.50 445.50H357.50Q360.50 445.50 360.50 448.50V543.90z" fill="#fff"/><path d="M331.50 543.90V448.50Q331.50 445.50 334.50 445.50H357.50Q360.50 445.50 360.50 448.50V543.90" fill="none" stroke="#d2d2d2" stroke-width="1"/>
<rect x="336.70" y="451.40" width="17.70" height="92.50" fill="#000"/>
<path d="M379.50 543.90V449.00Q379.50 446.50 382.00 446.50H399.00Q401.50 446.50 401.50 449.00V543.90z" fill="#fff"/><path d="M379.50 543.90V449.00Q379.50 446.50 382.00 446.50H399.00Q401.50 446.50 401.50 449.00V543.90" fill="none" stroke="#ffd2d2" stroke-width="1"/>
<rect x="383.05" y="449.90" width="14.90" height="94.00" fill="#ff0000"/>
<path d="M402.50 543.90V449.00Q402.50 446.50 405.00 446.50H422.00Q424.50 446.50 424.50 449.00V543.90z" fill="#fff"/><path d="M402.50 543.90V449.00Q402.50 446.50 405.00 446.50H422.00Q424.50 446.50 424.50 449.00V543.90" fill="none" stroke="#ffd2d2" stroke-width="1"/>
<rect x="405.79" y="449.90" width="14.90" height="94.00" fill="#ff0000"/>
<path d="M425.50 543.90V449.00Q425.50 446.50 428.00 446.50H445.00Q447.50 446.50 447.50 449.00V543.90z" fill="#fff"/><path d="M425.50 543.90V449.00Q425.50 446.50 428.00 446.50H445.00Q447.50 446.50 447.50 449.00V543.90" fill="none" stroke="#ffd2d2" stroke-width="1"/>
<rect x="428.55" y="449.90" width="14.90" height="94.00" fill="#ff0000"/>
<path d="M447.50 543.90V449.00Q447.50 446.50 450.00 446.50H467.00Q469.50 446.50 469.50 449.00V543.90z" fill="#fff"/><path d="M447.50 543.90V449.00Q447.50 446.50 450.00 446.50H467.00Q469.50 446.50 469.50 449.00V543.90" fill="none" stroke="#ffd2d2" stroke-width="1"/>
<rect x="451.33" y="449.90" width="14.90" height="94.00" fill="#ff0000"/>
<path d="M862.50 543.90V449.00Q862.50 446.50 865.00 446.50H882.00Q884.50 446.50 884.50 449.00V543.90z" fill="#fff"/><path d="M862.50 543.90V449.00Q862.50 446.50 865.00 446.50H882.00Q884.50 446.50 884.50 449.00V543.90" fill="none" stroke="#d2ffd2" stroke-width="1"/>
<rect x="865.46" y="449.90" width="14.90" height="94.00" fill="#00ff00"/>
<path d="M885.50 543.90V449.00Q885.50 446.50 888.00 446.50H905.00Q907.50 446.50 907.50 449.00V543.90z" fill="#fff"/><path d="M885.50 543.90V449.00Q885.50 446.50 888.00 446.50H905.00Q907.50 446.50 907.50 449.00V543.90" fill="none" stroke="#d2ffd2" stroke-width="1"/>
<rect x="888.70" y="449.90" width="14.90" height="94.00" fill="#00ff00"/>
<path d="M908.50 543.90V449.00Q908.50 446.50 911.00 446.50H928.00Q930.50 446.50 930.50 449.00V543.90z" fill="#fff"/><path d="M908.50 543.90V449.00Q908.50 446.50 911.00 446.50H928.00Q930.50 446.50 930.50 449.00V543.90" fill="none" stroke="#d2ffd2" stroke-width="1"/>
<rect x="911.96" y="449.90" width="14.90" height="94.00" fill="#00ff00"/>
<path d="M931.50 543.90V449.00Q931.50 446.50 934.00 446.50H951.00Q953.50 446.50 953.50 449.00V543.90z" fill="#fff"/><path d="M931.50 543.90V449.00Q931.50 446.50 934.00 446.50H951.00Q953.50 446.50 953.50 449.00V543.90" fill="none" stroke="#d2ffd2" stroke-width="1"/>
<rect x="935.24" y="449.90" width="14.90" height="94.00" fill="#00ff00"/>
<clipPath id="cp4"><rect x="254.44" y="438.60" width="1122.08" height="108.90"/></clipPath>
<g clip-path="url(#cp4)">
<path d="M258.47 527.00L273.27 527.40M281.06 527.59L295.89 527.91M300.93 524.27L321.29 457.63M369.15 472.35L389.14 526.05M394.40 529.80L409.34 530.20M417.14 530.40L432.10 530.80M439.81 530.08L454.97 526.82M462.56 525.02L477.81 521.08M485.26 518.77L500.76 513.13M507.98 510.20L523.72 503.10M530.90 500.06L546.53 493.84M553.86 491.20L569.34 486.20M576.86 484.15L592.17 480.75M599.87 479.61L615.03 478.49M622.82 478.28L638.00 478.62M645.79 478.56L660.99 478.04M668.79 478.09L684.01 478.81M691.81 479.00L707.05 479.00M714.84 479.24L730.12 480.16M737.91 480.69L753.22 481.81M760.96 482.72L776.37 485.18M784.10 486.24L799.48 487.96M807.25 488.60L822.63 489.40M830.40 489.97L845.82 491.43M853.58 492.28L869.04 494.22M876.81 494.83L892.25 495.37M900.02 495.93L915.53 497.67M923.29 498.38L938.80 499.52M946.58 500.00L962.10 500.80M969.88 501.28L985.43 502.42M993.21 503.03L1008.79 504.37M1016.56 505.03L1032.17 506.37M1039.93 507.11L1055.58 508.79M1063.35 509.48L1078.99 510.62M1086.77 511.15L1102.44 512.15M1110.19 512.96L1125.95 515.24M1133.70 516.13L1149.42 517.47M1157.21 517.93L1172.94 518.47M1180.72 518.88L1196.49 520.02M1204.25 520.78L1220.08 522.72M1227.85 523.43L1243.66 524.37M1251.45 524.83L1267.28 525.77M1275.06 526.30L1290.93 527.50M1298.72 527.88L1314.60 528.22M1322.39 528.53L1338.30 529.47M322.53 450.00L322.83 438.60M367.89 438.60L367.80 464.80" fill="none" stroke="#0000ff" stroke-width="1.6"/>
<circle cx="254.57" cy="526.90" r="3.15" fill="#0000ff"/>
<circle cx="277.17" cy="527.50" r="3.15" fill="#0000ff"/>
<circle cx="299.79" cy="528.00" r="3.15" fill="#0000ff"/>
<circle cx="322.43" cy="453.90" r="3.15" fill="#0000ff"/>
<circle cx="367.79" cy="468.70" r="3.15" fill="#0000ff"/>
<circle cx="390.50" cy="529.70" r="3.15" fill="#0000ff"/>
<circle cx="413.24" cy="530.30" r="3.15" fill="#0000ff"/>
<circle cx="436.00" cy="530.90" r="3.15" fill="#0000ff"/>
<circle cx="458.78" cy="526.00" r="3.15" fill="#0000ff"/>
<circle cx="481.59" cy="520.10" r="3.15" fill="#0000ff"/>
<circle cx="504.42" cy="511.80" r="3.15" fill="#0000ff"/>
<circle cx="527.27" cy="501.50" r="3.15" fill="#0000ff"/>
<circle cx="550.15" cy="492.40" r="3.15" fill="#0000ff"/>
<circle cx="573.05" cy="485.00" r="3.15" fill="#0000ff"/>
<circle cx="595.98" cy="479.90" r="3.15" fill="#0000ff"/>
<circle cx="618.92" cy="478.20" r="3.15" fill="#0000ff"/>
<circle cx="641.90" cy="478.70" r="3.15" fill="#0000ff"/>
<circle cx="664.89" cy="477.90" r="3.15" fill="#0000ff"/>
<circle cx="687.91" cy="479.00" r="3.15" fill="#0000ff"/>
<circle cx="710.95" cy="479.00" r="3.15" fill="#0000ff"/>
<circle cx="734.02" cy="480.40" r="3.15" fill="#0000ff"/>
<circle cx="757.11" cy="482.10" r="3.15" fill="#0000ff"/>
<circle cx="780.22" cy="485.80" r="3.15" fill="#0000ff"/>
<circle cx="803.36" cy="488.40" r="3.15" fill="#0000ff"/>
<circle cx="826.52" cy="489.60" r="3.15" fill="#0000ff"/>
<circle cx="849.71" cy="491.80" r="3.15" fill="#0000ff"/>
<circle cx="872.91" cy="494.70" r="3.15" fill="#0000ff"/>
<circle cx="896.15" cy="495.50" r="3.15" fill="#0000ff"/>
<circle cx="919.41" cy="498.10" r="3.15" fill="#0000ff"/>
<circle cx="942.69" cy="499.80" r="3.15" fill="#0000ff"/>
<circle cx="965.99" cy="501.00" r="3.15" fill="#0000ff"/>
<circle cx="989.32" cy="502.70" r="3.15" fill="#0000ff"/>
<circle cx="1012.68" cy="504.70" r="3.15" fill="#0000ff"/>
<circle cx="1036.05" cy="506.70" r="3.15" fill="#0000ff"/>
<circle cx="1059.46" cy="509.20" r="3.15" fill="#0000ff"/>
<circle cx="1082.88" cy="510.90" r="3.15" fill="#0000ff"/>
<circle cx="1106.33" cy="512.40" r="3.15" fill="#0000ff"/>
<circle cx="1129.81" cy="515.80" r="3.15" fill="#0000ff"/>
<circle cx="1153.31" cy="517.80" r="3.15" fill="#0000ff"/>
<circle cx="1176.83" cy="518.60" r="3.15" fill="#0000ff"/>
<circle cx="1200.38" cy="520.30" r="3.15" fill="#0000ff"/>
<circle cx="1223.96" cy="523.20" r="3.15" fill="#0000ff"/>
<circle cx="1247.55" cy="524.60" r="3.15" fill="#0000ff"/>
<circle cx="1271.18" cy="526.00" r="3.15" fill="#0000ff"/>
<circle cx="1294.82" cy="527.80" r="3.15" fill="#0000ff"/>
<circle cx="1318.49" cy="528.30" r="3.15" fill="#0000ff"/>
<circle cx="1342.19" cy="529.70" r="3.15" fill="#0000ff"/>
</g>
<text transform="translate(156.81 450.00) scale(0.3704 0.3600)">0.016</text>
<text transform="translate(156.81 519.00) scale(0.3704 0.3600)">0.008</text>
<text transform="translate(1080.92 473.00) scale(0.3652 0.3717)">-5dBm  FWD/BWD, 50km</text>
</g>
<g id="panel5">
<path d="M251.32 560.00V664.70" fill="none" stroke="#0a0a0a" stroke-width="1.3"/>
<path d="M250.52 667.90H1354.71" fill="none" stroke="#3a3a3a" stroke-width="1.8"/>
<path d="M251.22 560.60h5.8M251.22 593.00h3.6M251.22 625.70h5.8M251.22 658.00h3.6M309.26 668.40v-6.2M381.81 668.40v-3.5M454.35 668.40v-6.2M526.89 668.40v-3.5M599.44 668.40v-6.2M671.99 668.40v-3.5M744.53 668.40v-6.2M817.08 668.40v-3.5M889.62 668.40v-6.2M962.16 668.40v-3.5M1034.71 668.40v-6.2M1107.26 668.40v-3.5M1179.80 668.40v-6.2M1252.35 668.40v-3.5M1324.89 668.40v-6.2" fill="none" stroke="#1a1a1a" stroke-width="1.3"/>
<path d="M327.50 664.80V582.50Q327.50 579.50 330.50 579.50H353.50Q356.50 579.50 356.50 582.50V664.80z" fill="#fff"/><path d="M327.50 664.80V582.50Q327.50 579.50 330.50 579.50H353.50Q356.50 579.50 356.50 582.50V664.80" fill="none" stroke="#d2d2d2" stroke-width="1"/>
<rect x="333.24" y="585.00" width="17.70" height="79.80" fill="#000"/>
<path d="M376.50 664.80V583.00Q376.50 580.50 379.00 580.50H396.00Q398.50 580.50 398.50 583.00V664.80z" fill="#fff"/><path d="M376.50 664.80V583.00Q376.50 580.50 379.00 580.50H396.00Q398.50 580.50 398.50 583.00V664.80" fill="none" stroke="#ffd2d2" stroke-width="1"/>
<rect x="379.62" y="584.20" width="14.90" height="80.60" fill="#ff0000"/>
<path d="M398.50 664.80V583.00Q398.50 580.50 401.00 580.50H419.00Q421.50 580.50 421.50 583.00V664.80z" fill="#fff"/><path d="M398.50 664.80V583.00Q398.50 580.50 401.00 580.50H419.00Q421.50 580.50 421.50 583.00V664.80" fill="none" stroke="#ffd2d2" stroke-width="1"/>
<rect x="402.36" y="584.20" width="14.90" height="80.60" fill="#ff0000"/>
<path d="M421.50 664.80V583.00Q421.50 580.50 424.00 580.50H441.00Q443.50 580.50 443.50 583.00V664.80z" fill="#fff"/><path d="M421.50 664.80V583.00Q421.50 580.50 424.00 580.50H441.00Q443.50 580.50 443.50 583.00V664.80" fill="none" stroke="#ffd2d2" stroke-width="1"/>
<rect x="425.14" y="584.20" width="14.90" height="80.60" fill="#ff0000"/>
<path d="M444.50 664.80V583.00Q444.50 580.50 447.00 580.50H464.00Q466.50 580.50 466.50 583.00V664.80z" fill="#fff"/><path d="M444.50 664.80V583.00Q444.50 580.50 447.00 580.50H464.00Q466.50 580.50 466.50 583.00V664.80" fill="none" stroke="#ffd2d2" stroke-width="1"/>
<rect x="447.93" y="584.20" width="14.90" height="80.60" fill="#ff0000"/>
<path d="M467.50 664.80V583.00Q467.50 580.50 470.00 580.50H487.00Q489.50 580.50 489.50 583.00V664.80z" fill="#fff"/><path d="M467.50 664.80V583.00Q467.50 580.50 470.00 580.50H487.00Q489.50 580.50 489.50 583.00V664.80" fill="none" stroke="#ffd2d2" stroke-width="1"/>
<rect x="470.75" y="584.20" width="14.90" height="80.60" fill="#ff0000"/>
<path d="M490.50 664.80V583.00Q490.50 580.50 493.00 580.50H510.00Q512.50 580.50 512.50 583.00V664.80z" fill="#fff"/><path d="M490.50 664.80V583.00Q490.50 580.50 493.00 580.50H510.00Q512.50 580.50 512.50 583.00V664.80" fill="none" stroke="#ffd2d2" stroke-width="1"/>
<rect x="493.60" y="584.20" width="14.90" height="80.60" fill="#ff0000"/>
<path d="M513.50 664.80V583.00Q513.50 580.50 516.00 580.50H533.00Q535.50 580.50 535.50 583.00V664.80z" fill="#fff"/><path d="M513.50 664.80V583.00Q513.50 580.50 516.00 580.50H533.00Q535.50 580.50 535.50 583.00V664.80" fill="none" stroke="#ffd2d2" stroke-width="1"/>
<rect x="516.46" y="584.20" width="14.90" height="80.60" fill="#ff0000"/>
<path d="M535.50 664.80V583.00Q535.50 580.50 538.00 580.50H556.00Q558.50 580.50 558.50 583.00V664.80z" fill="#fff"/><path d="M535.50 664.80V583.00Q535.50 580.50 538.00 580.50H556.00Q558.50 580.50 558.50 583.00V664.80" fill="none" stroke="#ffd2d2" stroke-width="1"/>
<rect x="539.35" y="584.20" width="14.90" height="80.60" fill="#ff0000"/>
<path d="M558.50 664.80V583.00Q558.50 580.50 561.00 580.50H578.00Q580.50 580.50 580.50 583.00V664.80z" fill="#fff"/><path d="M558.50 664.80V583.00Q558.50 580.50 561.00 580.50H578.00Q580.50 580.50 580.50 583.00V664.80" fill="none" stroke="#ffd2d2" stroke-width="1"/>
<rect x="562.27" y="584.20" width="14.90" height="80.60" fill="#ff0000"/>
<path d="M581.50 664.80V583.00Q581.50 580.50 584.00 580.50H601.00Q603.50 580.50 603.50 583.00V664.80z" fill="#fff"/><path d="M581.50 664.80V583.00Q581.50 580.50 584.00 580.50H601.00Q603.50 580.50 603.50 583.00V664.80" fill="none" stroke="#ffd2d2" stroke-width="1"/>
<rect x="585.20" y="584.20" width="14.90" height="80.60" fill="#ff0000"/>
<path d="M604.50 664.80V583.00Q604.50 580.50 607.00 580.50H624.00Q626.50 580.50 626.50 583.00V664.80z" fill="#fff"/><path d="M604.50 664.80V583.00Q604.50 580.50 607.00 580.50H624.00Q626.50 580.50 626.50 583.00V664.80" fill="none" stroke="#ffd2d2" stroke-width="1"/>
<rect x="608.16" y="584.20" width="14.90" height="80.60" fill="#ff0000"/>
<path d="M627.50 664.80V583.00Q627.50 580.50 630.00 580.50H647.00Q649.50 580.50 649.50 583.00V664.80z" fill="#fff"/><path d="M627.50 664.80V583.00Q627.50 580.50 630.00 580.50H647.00Q649.50 580.50 649.50 583.00V664.80" fill="none" stroke="#ffd2d2" stroke-width="1"/>
<rect x="631.15" y="584.20" width="14.90" height="80.60" fill="#ff0000"/>
<path d="M650.50 664.80V583.00Q650.50 580.50 653.00 580.50H670.00Q672.50 580.50 672.50 583.00V664.80z" fill="#fff"/><path d="M650.50 664.80V583.00Q650.50 580.50 653.00 580.50H670.00Q672.50 580.50 672.50 583.00V664.80" fill="none" stroke="#ffd2d2" stroke-width="1"/>
<rect x="654.15" y="584.20" width="14.90" height="80.60" fill="#ff0000"/>
<path d="M673.50 664.80V583.00Q673.50 580.50 676.00 580.50H693.00Q695.50 580.50 695.50 583.00V664.80z" fill="#fff"/><path d="M673.50 664.80V583.00Q673.50 580.50 676.00 580.50H693.00Q695.50 580.50 695.50 583.00V664.80" fill="none" stroke="#ffd2d2" stroke-width="1"/>
<rect x="677.19" y="584.20" width="14.90" height="80.60" fill="#ff0000"/>
<path d="M858.50 664.80V583.00Q858.50 580.50 861.00 580.50H878.00Q880.50 580.50 880.50 583.00V664.80z" fill="#fff"/><path d="M858.50 664.80V583.00Q858.50 580.50 861.00 580.50H878.00Q880.50 580.50 880.50 583.00V664.80" fill="none" stroke="#d2ffd2" stroke-width="1"/>
<rect x="862.29" y="584.20" width="14.90" height="80.60" fill="#00ff00"/>
<path d="M882.50 664.80V583.00Q882.50 580.50 885.00 580.50H902.00Q904.50 580.50 904.50 583.00V664.80z" fill="#fff"/><path d="M882.50 664.80V583.00Q882.50 580.50 885.00 580.50H902.00Q904.50 580.50 904.50 583.00V664.80" fill="none" stroke="#d2ffd2" stroke-width="1"/>
<rect x="885.54" y="584.20" width="14.90" height="80.60" fill="#00ff00"/>
<path d="M905.50 664.80V583.00Q905.50 580.50 908.00 580.50H925.00Q927.50 580.50 927.50 583.00V664.80z" fill="#fff"/><path d="M905.50 664.80V583.00Q905.50 580.50 908.00 580.50H925.00Q927.50 580.50 927.50 583.00V664.80" fill="none" stroke="#d2ffd2" stroke-width="1"/>
<rect x="908.81" y="584.20" width="14.90" height="80.60" fill="#00ff00"/>
<path d="M928.50 664.80V583.00Q928.50 580.50 931.00 580.50H948.00Q950.50 580.50 950.50 583.00V664.80z" fill="#fff"/><path d="M928.50 664.80V583.00Q928.50 580.50 931.00 580.50H948.00Q950.50 580.50 950.50 583.00V664.80" fill="none" stroke="#d2ffd2" stroke-width="1"/>
<rect x="932.10" y="584.20" width="14.90" height="80.60" fill="#00ff00"/>
<path d="M951.50 664.80V583.00Q951.50 580.50 954.00 580.50H972.00Q974.50 580.50 974.50 583.00V664.80z" fill="#fff"/><path d="M951.50 664.80V583.00Q951.50 580.50 954.00 580.50H972.00Q974.50 580.50 974.50 583.00V664.80" fill="none" stroke="#d2ffd2" stroke-width="1"/>
<rect x="955.42" y="584.20" width="14.90" height="80.60" fill="#00ff00"/>
<path d="M975.50 664.80V583.00Q975.50 580.50 978.00 580.50H995.00Q997.50 580.50 997.50 583.00V664.80z" fill="#fff"/><path d="M975.50 664.80V583.00Q975.50 580.50 978.00 580.50H995.00Q997.50 580.50 997.50 583.00V664.80" fill="none" stroke="#d2ffd2" stroke-width="1"/>
<rect x="978.77" y="584.20" width="14.90" height="80.60" fill="#00ff00"/>
<path d="M998.50 664.80V583.00Q998.50 580.50 1001.00 580.50H1018.00Q1020.50 580.50 1020.50 583.00V664.80z" fill="#fff"/><path d="M998.50 664.80V583.00Q998.50 580.50 1001.00 580.50H1018.00Q1020.50 580.50 1020.50 583.00V664.80" fill="none" stroke="#d2ffd2" stroke-width="1"/>
<rect x="1002.13" y="584.20" width="14.90" height="80.60" fill="#00ff00"/>
<path d="M1022.50 664.80V583.00Q1022.50 580.50 1025.00 580.50H1042.00Q1044.50 580.50 1044.50 583.00V664.80z" fill="#fff"/><path d="M1022.50 664.80V583.00Q1022.50 580.50 1025.00 580.50H1042.00Q1044.50 580.50 1044.50 583.00V664.80" fill="none" stroke="#d2ffd2" stroke-width="1"/>
<rect x="1025.52" y="584.20" width="14.90" height="80.60" fill="#00ff00"/>
<path d="M1045.50 664.80V583.00Q1045.50 580.50 1048.00 580.50H1065.00Q1067.50 580.50 1067.50 583.00V664.80z" fill="#fff"/><path d="M1045.50 664.80V583.00Q1045.50 580.50 1048.00 580.50H1065.00Q1067.50 580.50 1067.50 583.00V664.80" fill="none" stroke="#d2ffd2" stroke-width="1"/>
<rect x="1048.94" y="584.20" width="14.90" height="80.60" fill="#00ff00"/>
<path d="M1068.50 664.80V583.00Q1068.50 580.50 1071.00 580.50H1089.00Q1091.50 580.50 1091.50 583.00V664.80z" fill="#fff"/><path d="M1068.50 664.80V583.00Q1068.50 580.50 1071.00 580.50H1089.00Q1091.50 580.50 1091.50 583.00V664.80" fill="none" stroke="#d2ffd2" stroke-width="1"/>
<rect x="1072.38" y="584.20" width="14.90" height="80.60" fill="#00ff00"/>
<path d="M1092.50 664.80V583.00Q1092.50 580.50 1095.00 580.50H1112.00Q1114.50 580.50 1114.50 583.00V664.80z" fill="#fff"/><path d="M1092.50 664.80V583.00Q1092.50 580.50 1095.00 580.50H1112.00Q1114.50 580.50 1114.50 583.00V664.80" fill="none" stroke="#d2ffd2" stroke-width="1"/>
<rect x="1095.84" y="584.20" width="14.90" height="80.60" fill="#00ff00"/>
<path d="M1115.50 664.80V583.00Q1115.50 580.50 1118.00 580.50H1135.00Q1137.50 580.50 1137.50 583.00V664.80z" fill="#fff"/><path d="M1115.50 664.80V583.00Q1115.50 580.50 1118.00 580.50H1135.00Q1137.50 580.50 1137.50 583.00V664.80" fill="none" stroke="#d2ffd2" stroke-width="1"/>
<rect x="1119.33" y="584.20" width="14.90" height="80.60" fill="#00ff00"/>
<path d="M1139.50 664.80V583.00Q1139.50 580.50 1142.00 580.50H1159.00Q1161.50 580.50 1161.50 583.00V664.80z" fill="#fff"/><path d="M1139.50 664.80V583.00Q1139.50 580.50 1142.00 580.50H1159.00Q1161.50 580.50 1161.50 583.00V664.80" fill="none" stroke="#d2ffd2" stroke-width="1"/>
<rect x="1142.84" y="584.20" width="14.90" height="80.60" fill="#00ff00"/>
<path d="M1162.50 664.80V583.00Q1162.50 580.50 1165.00 580.50H1183.00Q1185.50 580.50 1185.50 583.00V664.80z" fill="#fff"/><path d="M1162.50 664.80V583.00Q1162.50 580.50 1165.00 580.50H1183.00Q1185.50 580.50 1185.50 583.00V664.80" fill="none" stroke="#d2ffd2" stroke-width="1"/>
<rect x="1166.38" y="584.20" width="14.90" height="80.60" fill="#00ff00"/>
<clipPath id="cp5"><rect x="250.92" y="559.40" width="1122.68" height="109.10"/></clipPath>
<g clip-path="url(#cp5)">
<path d="M254.95 650.70L269.77 651.10M277.56 651.29L292.40 651.61M297.69 648.06L317.57 595.84M365.99 607.64L385.42 649.36M390.96 653.04L405.92 653.56M413.71 653.70L428.69 653.70M436.43 653.03L451.54 650.37M459.22 648.99L474.37 646.21M481.95 644.42L497.30 639.98M504.71 637.57L520.25 631.93M527.61 629.37L543.10 624.23M550.58 622.01L565.94 617.99M573.57 616.38L588.80 613.92M596.54 613.05L611.72 612.05M619.51 611.90L634.70 612.30M642.49 612.21L657.71 611.49M665.50 611.49L680.74 612.21M688.54 612.40L703.79 612.40M711.59 612.59L726.87 613.31M734.66 613.75L749.98 614.75M757.74 615.47L773.13 617.33M780.88 618.19L796.27 619.71M804.05 620.25L819.43 620.85M827.21 621.29L842.63 622.41M850.41 623.03L865.86 624.37M873.64 624.83L889.09 625.37M896.87 625.88L912.38 627.42M920.15 628.03L935.66 628.97M943.45 629.40L958.98 630.20M966.77 630.58L982.32 631.32M990.10 631.78L1005.69 632.92M1013.47 633.43L1029.08 634.37M1036.86 634.93L1052.50 636.27M1060.28 636.88L1075.94 638.02M1083.72 638.50L1099.40 639.30M1107.17 639.88L1122.90 641.42M1130.67 642.08L1146.40 643.22M1154.19 643.63L1169.93 644.17M1177.72 644.55L1193.50 645.55M1201.28 646.13L1217.09 647.47M1224.87 647.98L1240.69 648.72M1248.49 649.03L1264.33 649.57M1272.11 650.00L1288.00 651.20M1295.78 651.58L1311.67 651.92M1319.46 652.20L1335.38 653.00M319.00 588.30L319.36 559.40M364.44 559.40L364.35 600.20" fill="none" stroke="#0000ff" stroke-width="1.6"/>
<circle cx="251.06" cy="650.60" r="3.15" fill="#0000ff"/>
<circle cx="273.67" cy="651.20" r="3.15" fill="#0000ff"/>
<circle cx="296.30" cy="651.70" r="3.15" fill="#0000ff"/>
<circle cx="318.96" cy="592.20" r="3.15" fill="#0000ff"/>
<circle cx="364.34" cy="604.10" r="3.15" fill="#0000ff"/>
<circle cx="387.07" cy="652.90" r="3.15" fill="#0000ff"/>
<circle cx="409.81" cy="653.70" r="3.15" fill="#0000ff"/>
<circle cx="432.59" cy="653.70" r="3.15" fill="#0000ff"/>
<circle cx="455.38" cy="649.70" r="3.15" fill="#0000ff"/>
<circle cx="478.20" cy="645.50" r="3.15" fill="#0000ff"/>
<circle cx="501.05" cy="638.90" r="3.15" fill="#0000ff"/>
<circle cx="523.91" cy="630.60" r="3.15" fill="#0000ff"/>
<circle cx="546.80" cy="623.00" r="3.15" fill="#0000ff"/>
<circle cx="569.72" cy="617.00" r="3.15" fill="#0000ff"/>
<circle cx="592.65" cy="613.30" r="3.15" fill="#0000ff"/>
<circle cx="615.61" cy="611.80" r="3.15" fill="#0000ff"/>
<circle cx="638.60" cy="612.40" r="3.15" fill="#0000ff"/>
<circle cx="661.60" cy="611.30" r="3.15" fill="#0000ff"/>
<circle cx="684.64" cy="612.40" r="3.15" fill="#0000ff"/>
<circle cx="707.69" cy="612.40" r="3.15" fill="#0000ff"/>
<circle cx="730.77" cy="613.50" r="3.15" fill="#0000ff"/>
<circle cx="753.87" cy="615.00" r="3.15" fill="#0000ff"/>
<circle cx="777.00" cy="617.80" r="3.15" fill="#0000ff"/>
<circle cx="800.15" cy="620.10" r="3.15" fill="#0000ff"/>
<circle cx="823.32" cy="621.00" r="3.15" fill="#0000ff"/>
<circle cx="846.52" cy="622.70" r="3.15" fill="#0000ff"/>
<circle cx="869.74" cy="624.70" r="3.15" fill="#0000ff"/>
<circle cx="892.99" cy="625.50" r="3.15" fill="#0000ff"/>
<circle cx="916.26" cy="627.80" r="3.15" fill="#0000ff"/>
<circle cx="939.55" cy="629.20" r="3.15" fill="#0000ff"/>
<circle cx="962.87" cy="630.40" r="3.15" fill="#0000ff"/>
<circle cx="986.22" cy="631.50" r="3.15" fill="#0000ff"/>
<circle cx="1009.58" cy="633.20" r="3.15" fill="#0000ff"/>
<circle cx="1032.97" cy="634.60" r="3.15" fill="#0000ff"/>
<circle cx="1056.39" cy="636.60" r="3.15" fill="#0000ff"/>
<circle cx="1079.83" cy="638.30" r="3.15" fill="#0000ff"/>
<circle cx="1103.29" cy="639.50" r="3.15" fill="#0000ff"/>
<circle cx="1126.78" cy="641.80" r="3.15" fill="#0000ff"/>
<circle cx="1150.29" cy="643.50" r="3.15" fill="#0000ff"/>
<circle cx="1173.83" cy="644.30" r="3.15" fill="#0000ff"/>
<circle cx="1197.39" cy="645.80" r="3.15" fill="#0000ff"/>
<circle cx="1220.98" cy="647.80" r="3.15" fill="#0000ff"/>
<circle cx="1244.59" cy="648.90" r="3.15" fill="#0000ff"/>
<circle cx="1268.22" cy="649.70" r="3.15" fill="#0000ff"/>
<circle cx="1291.88" cy="651.50" r="3.15" fill="#0000ff"/>
<circle cx="1315.57" cy="652.00" r="3.15" fill="#0000ff"/>
<circle cx="1339.28" cy="653.20" r="3.15" fill="#0000ff"/>
</g>
<text transform="translate(153.10 571.00) scale(0.3713 0.3600)">0.006</text>
<text transform="translate(153.10 636.00) scale(0.3711 0.3600)">0.003</text>
<text transform="translate(1068.02 583.00) scale(0.3657 0.3690)">-10dBm  FWD/BWD, 50km</text>
</g>
<g id="panel6">
<path d="M251.86 688.70V795.50" fill="none" stroke="#3a3a3a" stroke-width="1.6"/>
<path d="M251.06 794.80H1368.69" fill="none" stroke="#3a3a3a" stroke-width="1.8"/>
<path d="M251.76 689.30h5.8M251.76 723.90h3.6M251.76 758.50h5.8M251.76 793.10h3.6M310.50 795.30v-6.2M383.93 795.30v-3.5M457.36 795.30v-6.2M530.79 795.30v-3.5M604.22 795.30v-6.2M677.65 795.30v-3.5M751.08 795.30v-6.2M824.51 795.30v-3.5M897.94 795.30v-6.2M971.37 795.30v-3.5M1044.80 795.30v-6.2M1118.23 795.30v-3.5M1191.66 795.30v-6.2M1265.09 795.30v-3.5M1338.52 795.30v-6.2" fill="none" stroke="#1a1a1a" stroke-width="1.3"/>
<path d="M329.50 794.20V689.00H358.50V794.20z" fill="#fff"/><path d="M329.50 794.20V689.00M358.50 689.00V794.20" fill="none" stroke="#d2d2d2" stroke-width="1"/>
<rect x="334.87" y="689.00" width="17.70" height="105.20" fill="#000"/>
<path d="M378.50 794.20V689.00H400.50V794.20z" fill="#fff"/><path d="M378.50 794.20V689.00M400.50 689.00V794.20" fill="none" stroke="#ffd2d2" stroke-width="1"/>
<rect x="381.80" y="689.00" width="14.90" height="105.20" fill="#ff0000"/>
<path d="M401.50 794.20V689.00H423.50V794.20z" fill="#fff"/><path d="M401.50 794.20V689.00M423.50 689.00V794.20" fill="none" stroke="#ffd2d2" stroke-width="1"/>
<rect x="404.83" y="689.00" width="14.90" height="105.20" fill="#ff0000"/>
<path d="M866.50 794.20V689.00H889.50V794.20z" fill="#fff"/><path d="M866.50 794.20V689.00M889.50 689.00V794.20" fill="none" stroke="#d2ffd2" stroke-width="1"/>
<rect x="870.37" y="689.00" width="14.90" height="105.20" fill="#00ff00"/>
<path d="M890.50 794.20V689.00H912.50V794.20z" fill="#fff"/><path d="M890.50 794.20V689.00M912.50 689.00V794.20" fill="none" stroke="#d2ffd2" stroke-width="1"/>
<rect x="893.90" y="689.00" width="14.90" height="105.20" fill="#00ff00"/>
<clipPath id="cp6"><rect x="251.46" y="688.10" width="1136.14" height="107.30"/></clipPath>
<g clip-path="url(#cp6)">
<path d="M254.88 776.43L271.17 777.07M277.77 777.29L294.08 777.71M298.35 774.65L319.34 706.55M367.41 721.29L388.10 776.41M392.55 779.57L408.98 779.93M415.58 780.00L432.03 780.00M438.58 779.41L455.16 776.39M461.60 774.97L478.31 770.63M484.62 768.72L501.51 762.88M507.62 760.40L524.78 752.40M530.84 749.78L547.87 743.02M554.10 740.83L570.98 735.67M577.36 733.99L594.13 730.31M600.64 729.40L617.30 728.40M623.89 728.23L640.55 728.37M647.15 728.29L663.84 727.71M670.44 727.76L687.16 728.54M693.75 728.74L710.49 728.96M717.09 729.16L733.86 729.94M740.44 730.35L757.25 731.65M763.79 732.44L780.69 735.26M787.22 736.16L804.10 738.04M810.68 738.53L827.54 739.17M834.12 739.62L851.03 741.28M857.59 741.99L874.54 744.01M881.12 744.55L898.05 745.35M904.64 745.82L921.62 747.48M928.20 748.04L945.19 749.26M951.78 749.71L968.79 750.79M975.37 751.28L992.43 752.72M999.00 753.24L1016.07 754.46M1022.66 754.94L1039.75 756.16M1046.32 756.75L1063.46 758.55M1070.03 759.18L1087.18 760.62M1093.76 761.11L1110.92 762.19M1117.50 762.79L1134.72 764.81M1141.27 765.56L1158.51 767.44M1165.09 767.87L1182.32 768.23M1188.91 768.58L1206.18 770.02M1212.75 770.66L1230.06 772.54M1236.63 773.09L1253.94 774.11M1260.53 774.51L1277.87 775.59M1284.45 776.03L1301.82 777.27M1308.41 777.57L1325.79 777.93M1332.38 778.21L1349.79 779.29M320.40 700.10L320.71 688.10M366.35 688.10L366.26 714.90" fill="none" stroke="#0000ff" stroke-width="1.6"/>
<circle cx="251.59" cy="776.30" r="3.15" fill="#0000ff"/>
<circle cx="274.47" cy="777.20" r="3.15" fill="#0000ff"/>
<circle cx="297.38" cy="777.80" r="3.15" fill="#0000ff"/>
<circle cx="320.31" cy="703.40" r="3.15" fill="#0000ff"/>
<circle cx="366.25" cy="718.20" r="3.15" fill="#0000ff"/>
<circle cx="389.25" cy="779.50" r="3.15" fill="#0000ff"/>
<circle cx="412.28" cy="780.00" r="3.15" fill="#0000ff"/>
<circle cx="435.33" cy="780.00" r="3.15" fill="#0000ff"/>
<circle cx="458.41" cy="775.80" r="3.15" fill="#0000ff"/>
<circle cx="481.50" cy="769.80" r="3.15" fill="#0000ff"/>
<circle cx="504.63" cy="761.80" r="3.15" fill="#0000ff"/>
<circle cx="527.77" cy="751.00" r="3.15" fill="#0000ff"/>
<circle cx="550.94" cy="741.80" r="3.15" fill="#0000ff"/>
<circle cx="574.13" cy="734.70" r="3.15" fill="#0000ff"/>
<circle cx="597.35" cy="729.60" r="3.15" fill="#0000ff"/>
<circle cx="620.59" cy="728.20" r="3.15" fill="#0000ff"/>
<circle cx="643.85" cy="728.40" r="3.15" fill="#0000ff"/>
<circle cx="667.14" cy="727.60" r="3.15" fill="#0000ff"/>
<circle cx="690.46" cy="728.70" r="3.15" fill="#0000ff"/>
<circle cx="713.79" cy="729.00" r="3.15" fill="#0000ff"/>
<circle cx="737.15" cy="730.10" r="3.15" fill="#0000ff"/>
<circle cx="760.54" cy="731.90" r="3.15" fill="#0000ff"/>
<circle cx="783.94" cy="735.80" r="3.15" fill="#0000ff"/>
<circle cx="807.38" cy="738.40" r="3.15" fill="#0000ff"/>
<circle cx="830.83" cy="739.30" r="3.15" fill="#0000ff"/>
<circle cx="854.32" cy="741.60" r="3.15" fill="#0000ff"/>
<circle cx="877.82" cy="744.40" r="3.15" fill="#0000ff"/>
<circle cx="901.35" cy="745.50" r="3.15" fill="#0000ff"/>
<circle cx="924.90" cy="747.80" r="3.15" fill="#0000ff"/>
<circle cx="948.48" cy="749.50" r="3.15" fill="#0000ff"/>
<circle cx="972.09" cy="751.00" r="3.15" fill="#0000ff"/>
<circle cx="995.71" cy="753.00" r="3.15" fill="#0000ff"/>
<circle cx="1019.37" cy="754.70" r="3.15" fill="#0000ff"/>
<circle cx="1043.04" cy="756.40" r="3.15" fill="#0000ff"/>
<circle cx="1066.74" cy="758.90" r="3.15" fill="#0000ff"/>
<circle cx="1090.47" cy="760.90" r="3.15" fill="#0000ff"/>
<circle cx="1114.22" cy="762.40" r="3.15" fill="#0000ff"/>
<circle cx="1137.99" cy="765.20" r="3.15" fill="#0000ff"/>
<circle cx="1161.79" cy="767.80" r="3.15" fill="#0000ff"/>
<circle cx="1185.62" cy="768.30" r="3.15" fill="#0000ff"/>
<circle cx="1209.47" cy="770.30" r="3.15" fill="#0000ff"/>
<circle cx="1233.34" cy="772.90" r="3.15" fill="#0000ff"/>
<circle cx="1257.24" cy="774.30" r="3.15" fill="#0000ff"/>
<circle cx="1281.16" cy="775.80" r="3.15" fill="#0000ff"/>
<circle cx="1305.11" cy="777.50" r="3.15" fill="#0000ff"/>
<circle cx="1329.09" cy="778.00" r="3.15" fill="#0000ff"/>
<circle cx="1353.08" cy="779.50" r="3.15" fill="#0000ff"/>
</g>
<text transform="translate(174.21 699.00) scale(0.3692 0.3600)">0.02</text>
<text transform="translate(174.20 768.00) scale(0.3713 0.3600)">0.01</text>
<text transform="translate(1060.72 720.00) scale(0.3659 0.3731)">-10dBm  FWD/BWD, 75km</text>
</g>
<g id="xlabels">
<text transform="translate(268.86 829.00) scale(0.3767 0.3600)">1530</text>
<text transform="translate(416.19 829.00) scale(0.3733 0.3600)">1535</text>
<text transform="translate(562.58 829.00) scale(0.3748 0.3600)">1540</text>
<text transform="translate(709.69 829.00) scale(0.3737 0.3600)">1545</text>
<text transform="translate(857.11 829.00) scale(0.3714 0.3600)">1550</text>
<text transform="translate(1003.58 829.00) scale(0.3747 0.3600)">1555</text>
<text transform="translate(1150.59 829.00) scale(0.3739 0.3600)">1560</text>
<text transform="translate(1297.82 829.00) scale(0.3709 0.3600)">1565</text>
</g>
<text transform="translate(560.23 926.00) scale(0.5314 0.5350)">Wavelength (nm)</text>
<text transform="translate(121.0 649.80) rotate(-90) scale(0.5301 0.5350) translate(-9.00 0)">Excess  Noise (snu)</text>
</svg></body></html>
